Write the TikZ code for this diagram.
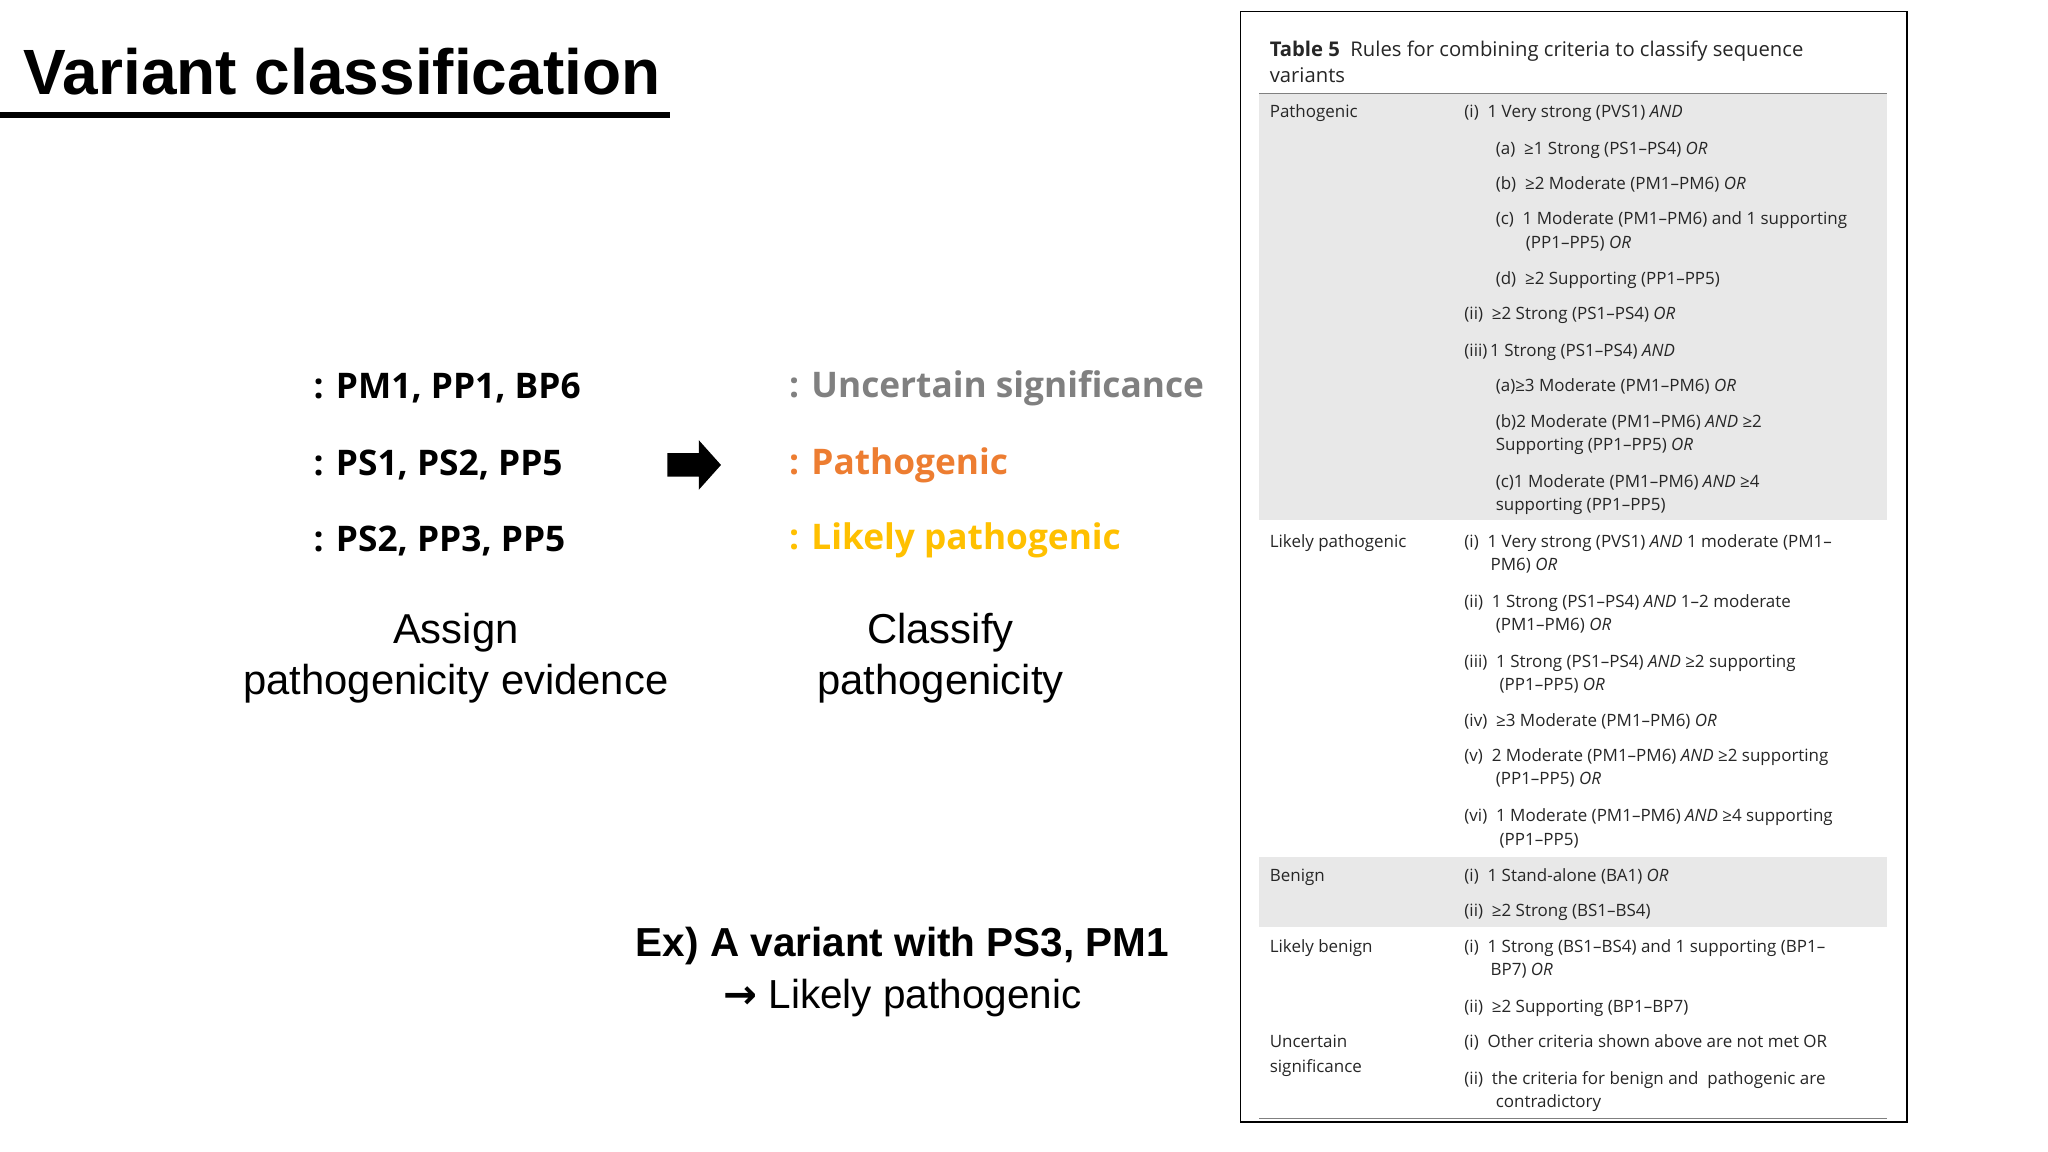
\documentclass[tikz,border=0pt]{standalone}
\usepackage{fontspec}
\setmainfont{Liberation Sans}
\newfontfamily\osans{Open Sans}
\newfontfamily\dejavu{DejaVu Sans}
\definecolor{band}{RGB}{232,232,232}
\definecolor{unc}{RGB}{128,128,128}
\definecolor{pat}{RGB}{237,125,49}
\definecolor{lpat}{RGB}{255,192,0}
\tikzset{
 ev/.style={anchor=west,font=\osans\bfseries\fontsize{27}{32}\selectfont,inner sep=0},
 captext/.style={align=center,font=\fontsize{32}{39}\selectfont,inner sep=0},
 tl/.style={anchor=base west,font=\osans\fontsize{13}{15}\selectfont,inner sep=0,text=black!85},
}
\newcommand{\tline}[4]{\node[tl] (#1) at (#2,#3+5) {#4};}
\begin{document}
\begin{tikzpicture}[x=1pt,y=-1pt]
\useasboundingbox (0,0) rectangle (1568,882);
\fill[white] (0,0) rectangle (1568,882);
% title
\node[anchor=base west,inner sep=0,font=\bfseries\fontsize{49}{52}\selectfont] (title) at (18,72) {Variant classification};
\draw[line width=4pt] (0,88) -- (513,88);
% evidence
\node[ev] (e1) at (240,297) {: PM1, PP1, BP6};
\node[ev] (e2) at (240,356) {: PS1, PS2, PP5};
\node[ev] (e3) at (240,414) {: PS2, PP3, PP5};
\coordinate (arr) at (531,356);
\fill (511,347) -- (535,347) -- (535,337) -- (552,356) -- (535,375) -- (535,365) -- (511,365) -- cycle;
\node[ev,text=unc] (c1) at (604,297) {: Uncertain significance};
\node[ev,text=pat] (c2) at (604,356) {: Pathogenic};
\node[ev,text=lpat] (c3) at (604,414) {: Likely pathogenic};
\node[captext] (assign) at (349,504) {Assign\\pathogenicity evidence};
\node[captext] (classify) at (720,504) {Classify\\pathogenicity};
\node[align=center,inner sep=0,font=\fontsize{31}{40}\selectfont] (ex) at (691,744) {\textbf{Ex) A variant with PS3, PM1}\\{\dejavu\bfseries →} Likely pathogenic};
% table
\draw[line width=1pt] (950,9) rectangle (1460,859);
\fill[band] (964,72) rectangle (1445,398);
\fill[band] (964,656) rectangle (1445,710);
\draw[gray,line width=0.8pt] (964,71.5) -- (1445,71.5);
\draw[gray,line width=0.8pt] (964,856) -- (1445,856);
\node[anchor=base west,inner sep=0,font=\osans\fontsize{15.5}{20}\selectfont,text=black!85] (tt1) at (972,43) {\textbf{Table 5}\ \ Rules for combining criteria to classify sequence};
\node[anchor=base west,inner sep=0,font=\osans\fontsize{15.5}{20}\selectfont,text=black!85] (tt2) at (972,63) {variants};
\tline{h1}{972}{85}{Pathogenic}
\tline{p1}{1121}{85}{(i)\ \ 1 Very strong (PVS1) \textit{AND}}
\tline{p2}{1145}{113}{(a)\ \ ≥1 Strong (PS1–PS4) \textit{OR}}
\tline{p3}{1145}{140}{(b)\ \ ≥2 Moderate (PM1–PM6) \textit{OR}}
\tline{p4}{1145}{167}{(c)\ \ 1 Moderate (PM1–PM6) and 1 supporting}
\tline{p4b}{1168}{185}{(PP1–PP5) \textit{OR}}
\tline{p5}{1145}{213}{(d)\ \ ≥2 Supporting (PP1–PP5)}
\tline{p6}{1121}{240}{(ii)\ \ ≥2 Strong (PS1–PS4) \textit{OR}}
\tline{p7}{1121}{268}{(iii)\,1 Strong (PS1–PS4) \textit{AND}}
\tline{p8}{1145}{295}{(a)≥3 Moderate (PM1–PM6) \textit{OR}}
\tline{p9}{1145}{322}{(b)2 Moderate (PM1–PM6) \textit{AND} ≥2}
\tline{p9b}{1145}{340}{Supporting (PP1–PP5) \textit{OR}}
\tline{p10}{1145}{368}{(c)1 Moderate (PM1–PM6) \textit{AND} ≥4}
\tline{p10b}{1145}{386}{supporting (PP1–PP5)}
\tline{h2}{972}{414}{Likely pathogenic}
\tline{l1}{1121}{414}{(i)\ \ 1 Very strong (PVS1) \textit{AND} 1 moderate (PM1–}
\tline{l1b}{1141}{432}{PM6) \textit{OR}}
\tline{l2}{1121}{460}{(ii)\ \ 1 Strong (PS1–PS4) \textit{AND} 1–2 moderate}
\tline{l2b}{1145}{478}{(PM1–PM6) \textit{OR}}
\tline{l3}{1121}{506}{(iii)\ \ 1 Strong (PS1–PS4) \textit{AND} ≥2 supporting}
\tline{l3b}{1148}{524}{(PP1–PP5) \textit{OR}}
\tline{l4}{1121}{551}{(iv)\ \ ≥3 Moderate (PM1–PM6) \textit{OR}}
\tline{l5}{1121}{578}{(v)\ \ 2 Moderate (PM1–PM6) \textit{AND} ≥2 supporting}
\tline{l5b}{1145}{596}{(PP1–PP5) \textit{OR}}
\tline{l6}{1121}{624}{(vi)\ \ 1 Moderate (PM1–PM6) \textit{AND} ≥4 supporting}
\tline{l6b}{1148}{642}{(PP1–PP5)}
\tline{h3}{972}{670}{Benign}
\tline{b1}{1121}{670}{(i)\ \ 1 Stand-alone (BA1) \textit{OR}}
\tline{b2}{1121}{697}{(ii)\ \ ≥2 Strong (BS1–BS4)}
\tline{h4}{972}{724}{Likely benign}
\tline{lb1}{1121}{724}{(i)\ \ 1 Strong (BS1–BS4) and 1 supporting (BP1–}
\tline{lb1b}{1141}{742}{BP7) \textit{OR}}
\tline{lb2}{1121}{770}{(ii)\ \ ≥2 Supporting (BP1–BP7)}
\tline{h5}{972}{797}{Uncertain}
\tline{h5b}{972}{816}{significance}
\tline{u1}{1121}{797}{(i)\ \ Other criteria shown above are not met OR}
\tline{u2}{1121}{825}{(ii)\ \ the criteria for benign and\ \ pathogenic are}
\tline{u2b}{1145}{843}{contradictory}
\end{tikzpicture}
\end{document}
